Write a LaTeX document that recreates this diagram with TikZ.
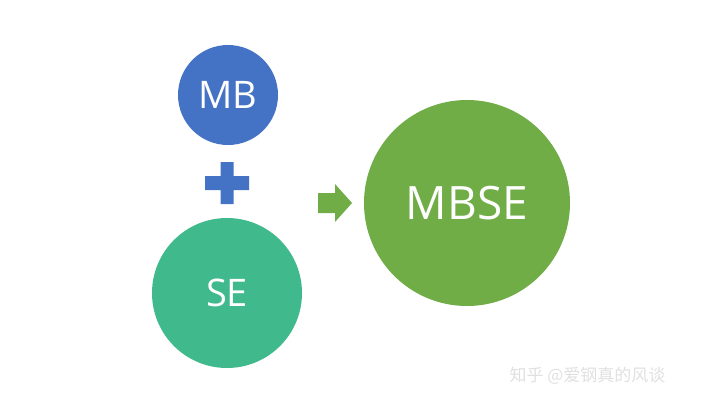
\documentclass[tikz,border=0pt]{standalone}
\usepackage{fontspec}
\setmainfont{Open Sans}
\newfontfamily\cjk{Noto Sans CJK SC}
\definecolor{mbblue}{HTML}{4472C4}
\definecolor{seteal}{HTML}{40BA8C}
\definecolor{mbgreen}{HTML}{70AD47}
\begin{document}
\begin{tikzpicture}[x=1pt,y=-1pt,
  circ/.style={circle,inner sep=0pt,text=white,font=\fontsize{38}{40}\selectfont}]
\useasboundingbox (0,0) rectangle (720,405);
\node[circ,fill=mbblue,minimum size=100pt] (mb) at (228,95) {MB};
\node[circ,fill=seteal,minimum size=150pt] (se) at (227,293) {SE};
\node[circ,fill=mbgreen,minimum size=206pt,font=\fontsize{46}{48}\selectfont] (mbse) at (467,203) {MBSE};
\fill[mbblue] (220.5,162) rectangle (233.5,204) (205,176) rectangle (249,190);
\fill[mbgreen] (318,193) -- (335,193) -- (335,184) -- (352,203) -- (335,222) -- (335,213) -- (318,213) -- cycle;
\node[text=black!12,font=\cjk\fontsize{17}{18}\selectfont,anchor=west] (wm) at (506,376) {知乎 @爱钢真的风谈};
\end{tikzpicture}
\end{document}
